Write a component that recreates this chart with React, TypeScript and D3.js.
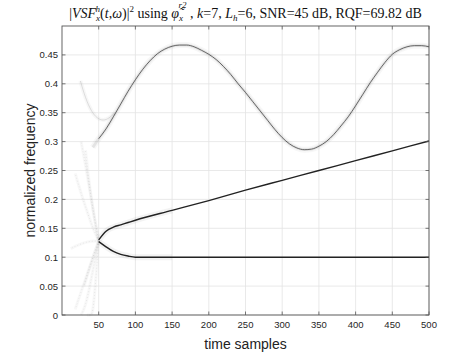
import React from "react";
import * as d3 from "d3";

const W = 474, H = 355;
const M = { left: 62, right: 45, top: 26, bottom: 40 };

const xTicks = [50, 100, 150, 200, 250, 300, 350, 400, 450, 500];
const yTicks = [0, 0.05, 0.1, 0.15, 0.2, 0.25, 0.3, 0.35, 0.4, 0.45];

// sinusoidal FM ridge (time, normalized frequency)
const sineT = [42, 50, 60, 70, 80, 90, 100, 110, 120, 130, 140, 150, 160, 170, 180, 190, 200, 210, 220, 230, 240, 250, 260, 270, 280, 290, 300, 310, 320, 330, 340, 350, 360, 370, 380, 390, 400, 410, 420, 430, 440, 450, 460, 470, 480, 490, 500];
const sineF = [0.290, 0.305, 0.322, 0.343, 0.365, 0.387, 0.407, 0.425, 0.440, 0.452, 0.460, 0.465, 0.467, 0.467, 0.464, 0.458, 0.451, 0.442, 0.430, 0.416, 0.400, 0.385, 0.369, 0.353, 0.337, 0.321, 0.307, 0.296, 0.289, 0.286, 0.287, 0.292, 0.300, 0.312, 0.327, 0.343, 0.362, 0.382, 0.402, 0.420, 0.437, 0.451, 0.459, 0.464, 0.466, 0.466, 0.464];

// linear chirp ridge
const chirpT = [50, 60, 70, 80, 90, 100, 150, 200, 250, 300, 350, 400, 450, 500];
const chirpF = [0.130, 0.145, 0.152, 0.156, 0.160, 0.164, 0.181, 0.198, 0.216, 0.233, 0.250, 0.267, 0.284, 0.301];

// constant-frequency ridge
const constT = [50, 60, 70, 80, 90, 100, 150, 200, 250, 300, 350, 400, 450, 500];
const constF = [0.127, 0.118, 0.110, 0.105, 0.102, 0.100, 0.100, 0.100, 0.100, 0.100, 0.100, 0.100, 0.100, 0.100];

// faint ghost curve at the start of the sinusoidal component
const ghostT = [25, 32, 40, 48, 56, 64, 72];
const ghostF = [0.405, 0.375, 0.352, 0.340, 0.336, 0.340, 0.350];

// faint spray lines fanning out from the crossing point near t=50
const sprayT = [
  [50, 42, 34, 26, 18],
  [50, 42, 34, 26, 18],
  [50, 44, 38, 32, 26],
  [50, 44, 38, 32, 26],
  [50, 45, 40, 35, 30],
  [50, 45, 40, 36, 32],
  [50, 46, 42, 38, 34],
  [50, 40, 30, 20, 12],
];
const sprayF = [
  [0.128, 0.100, 0.070, 0.040, 0.010],
  [0.128, 0.150, 0.180, 0.210, 0.245],
  [0.128, 0.090, 0.050, 0.015, 0.000],
  [0.128, 0.170, 0.215, 0.260, 0.300],
  [0.128, 0.110, 0.090, 0.070, 0.050],
  [0.128, 0.160, 0.200, 0.240, 0.285],
  [0.128, 0.060, 0.000, 0.000, 0.000],
  [0.128, 0.128, 0.125, 0.120, 0.115],
];

export default function App() {
  const x = d3.scaleLinear().domain([0, 500]).range([M.left, W - M.right]);
  const y = d3.scaleLinear().domain([0, 0.5]).range([H - M.bottom, M.top]);
  const line = d3
    .line<[number, number]>()
    .x((d) => x(d[0]))
    .y((d) => y(d[1]))
    .curve(d3.curveMonotoneX);
  const lineB = d3
    .line<[number, number]>()
    .x((d) => x(d[0]))
    .y((d) => y(d[1]))
    .curve(d3.curveBasis);

  const zip = (a: number[], b: number[]) => a.map((t, i) => [t, b[i]] as [number, number]);
  const sine = zip(sineT, sineF);
  const chirp = zip(chirpT, chirpF);
  const cst = zip(constT, constF);
  const ghost = zip(ghostT, ghostF);

  const x0 = M.left, x1 = W - M.right, y0 = H - M.bottom, y1 = M.top;
  const font = "'Liberation Sans', Arial, sans-serif";
  const tickCol = "#262626";

  return (
    <svg width={W} height={H} style={{ position: "absolute", left: 0, top: 0, background: "#fff" }}>
      <rect x={0} y={0} width={W} height={H} fill="#fff" />
      {/* grid */}
      {xTicks.map((t) => (
        <line key={"gx" + t} x1={x(t)} x2={x(t)} y1={y0} y2={y1} stroke="#e3e3e3" strokeWidth={0.8} />
      ))}
      {yTicks.map((t) => (
        <line key={"gy" + t} x1={x0} x2={x1} y1={y(t)} y2={y(t)} stroke="#e3e3e3" strokeWidth={0.8} />
      ))}

      {/* faint spray near the start */}
      {sprayT.map((ts, i) => (
        <path key={"sp" + i} d={lineB(zip(ts, sprayF[i])) || ""} fill="none" stroke="#bbb" strokeWidth={3} strokeOpacity={0.1} />
      ))}
      {sprayT.map((ts, i) => (
        <path key={"sp2" + i} d={lineB(zip(ts, sprayF[i])) || ""} fill="none" stroke="#aaa" strokeWidth={0.5} strokeOpacity={0.45} strokeDasharray="1 2" />
      ))}
      <path d={lineB(ghost) || ""} fill="none" stroke="#999" strokeWidth={4} strokeOpacity={0.08} />
      <path d={lineB(ghost) || ""} fill="none" stroke="#aaa" strokeWidth={0.7} strokeOpacity={0.5} />

      {/* halos */}
      <path d={line(sine) || ""} fill="none" stroke="#888" strokeWidth={6} strokeOpacity={0.07} />
      <path d={line(sine) || ""} fill="none" stroke="#777" strokeWidth={2.8} strokeOpacity={0.15} />
      <path d={line(chirp.slice(0, 7)) || ""} fill="none" stroke="#888" strokeWidth={6} strokeOpacity={0.1} />
      <path d={line(cst.slice(0, 7)) || ""} fill="none" stroke="#888" strokeWidth={6} strokeOpacity={0.1} />

      {/* ridges */}
      <path d={line(sine.slice(1)) || ""} fill="none" stroke="#333" strokeWidth={0.9} strokeOpacity={0.8} />
      <path d={line(chirp) || ""} fill="none" stroke="#222" strokeWidth={1.4} />
      <path d={line(cst) || ""} fill="none" stroke="#222" strokeWidth={1.4} />

      {/* box */}
      <rect x={x0} y={y1} width={x1 - x0} height={y0 - y1} fill="none" stroke="#555" strokeWidth={0.9} />
      {xTicks.map((t) => (
        <g key={"xt" + t}>
          <line x1={x(t)} x2={x(t)} y1={y0} y2={y0 - 3.5} stroke="#555" strokeWidth={0.8} />
          <line x1={x(t)} x2={x(t)} y1={y1} y2={y1 + 3.5} stroke="#555" strokeWidth={0.8} />
          <text x={x(t)} y={y0 + 13} textAnchor="middle" fontFamily={font} fontSize={9.5} fill={tickCol}>
            {t}
          </text>
        </g>
      ))}
      {yTicks.map((t) => (
        <g key={"yt" + t}>
          <line x1={x0} x2={x0 + 3.5} y1={y(t)} y2={y(t)} stroke="#555" strokeWidth={0.8} />
          <line x1={x1} x2={x1 - 3.5} y1={y(t)} y2={y(t)} stroke="#555" strokeWidth={0.8} />
          <text x={x0 - 4} y={y(t) + 3.5} textAnchor="end" fontFamily={font} fontSize={9.5} fill={tickCol}>
            {String(t)}
          </text>
        </g>
      ))}

      {/* labels */}
      <text x={(x0 + x1) / 2} y={H - 6} textAnchor="middle" fontFamily={font} fontSize={14} fill="#222">
        time samples
      </text>
      <text
        transform={`translate(35, ${(y0 + y1) / 2}) rotate(-90)`}
        textAnchor="middle"
        fontFamily={font}
        fontSize={14}
        fill="#222"
      >
        normalized frequency
      </text>

      {/* title */}
      <text x={(x0 + x1) / 2} y={18} textAnchor="middle" fontFamily="'Liberation Serif', 'Times New Roman', serif" fontSize={14} fill="#111">
        <tspan>|</tspan>
        <tspan fontStyle="italic">VSF</tspan>
        <tspan fontStyle="italic" fontSize={9} dy={3}>x</tspan>
        <tspan fontStyle="italic" fontSize={9} dx={-4.5} dy={-9}>h</tspan>
        <tspan dy={6}>(</tspan>
        <tspan fontStyle="italic">t</tspan>
        <tspan>,</tspan>
        <tspan fontStyle="italic">ω</tspan>
        <tspan>)|</tspan>
        <tspan fontSize={9} dy={-6}>2</tspan>
        <tspan dy={6}> using </tspan>
        <tspan fontStyle="italic">φ̃</tspan>
        <tspan fontStyle="italic" fontSize={9} dy={3}>x</tspan>
        <tspan fontStyle="italic" fontSize={9} dx={-4.5} dy={-13}>r2</tspan>
        <tspan dy={10}> , </tspan>
        <tspan fontStyle="italic">k</tspan>
        <tspan>=7, </tspan>
        <tspan fontStyle="italic">L</tspan>
        <tspan fontStyle="italic" fontSize={9} dy={3}>h</tspan>
        <tspan dy={-3}>=6, SNR=45 dB, RQF=69.82 dB</tspan>
      </text>
    </svg>
  );
}
